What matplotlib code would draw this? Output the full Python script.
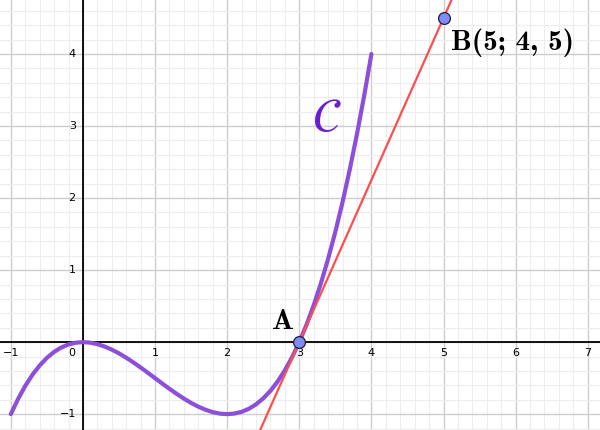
import matplotlib.pyplot as plt
from matplotlib.ticker import MultipleLocator

# curve C, points
curve_x = [-1.0, -0.9, -0.8, -0.7, -0.6, -0.5, -0.4, -0.3, -0.2, -0.1,
           0.0, 0.1, 0.2, 0.3, 0.4, 0.5, 0.6, 0.7, 0.8, 0.9,
           1.0, 1.1, 1.2, 1.3, 1.4, 1.5, 1.6, 1.7, 1.8, 1.9,
           2.0, 2.1, 2.2, 2.3, 2.4, 2.5, 2.6, 2.7, 2.8, 2.9,
           3.0, 3.1, 3.2, 3.3, 3.4, 3.5, 3.6, 3.7, 3.8, 3.9, 4.0]
curve_y = [-1.0, -0.79, -0.608, -0.453, -0.324, -0.219, -0.136, -0.074, -0.032, -0.008,
           0.0, -0.007, -0.028, -0.061, -0.104, -0.156, -0.216, -0.282, -0.352, -0.425,
           -0.5, -0.575, -0.648, -0.718, -0.784, -0.844, -0.896, -0.939, -0.972, -0.993,
           -1.0, -0.992, -0.968, -0.926, -0.864, -0.781, -0.676, -0.547, -0.392, -0.21,
           0.0, 0.24, 0.512, 0.817, 1.156, 1.531, 1.944, 2.396, 2.888, 3.422, 4.0]

# tangent goes through A and B
point_a = (3, 0)
point_b = (5, 4.5)

x_ticks = [-1, 1, 2, 3, 4, 5, 6, 7]
y_ticks = [-1, 1, 2, 3, 4]

fig = plt.figure(figsize=(6, 4.3), dpi=100)
ax = fig.add_axes([0, 0, 1, 1])
ax.set_xlim(-1.15, 7.17)
ax.set_ylim(-1.22, 4.75)

# grid
ax.xaxis.set_major_locator(MultipleLocator(1))
ax.yaxis.set_major_locator(MultipleLocator(1))
ax.xaxis.set_minor_locator(MultipleLocator(0.2))
ax.yaxis.set_minor_locator(MultipleLocator(0.2))
ax.grid(which='major', color='#cdcdcd', lw=1.0)
ax.grid(which='minor', color='#ededed', lw=0.8)
ax.tick_params(which='both', length=0, labelbottom=False, labelleft=False)
for s in ax.spines.values():
    s.set_visible(False)
ax.set_axisbelow(True)

ax.axhline(0, color='black', lw=1.3, zorder=2)
ax.axvline(0, color='black', lw=1.3, zorder=2)

for t in x_ticks:
    ax.text(t, -0.08, '−1' if t < 0 else str(t), ha='center', va='top', fontsize=8)
for t in y_ticks:
    ax.text(-0.1, t, '−1' if t < 0 else str(t), ha='right', va='center', fontsize=8)
ax.text(-0.1, -0.08, '0', ha='right', va='top', fontsize=8)

ax.plot(curve_x, curve_y, color='#8b4fd9', lw=3, solid_capstyle='round',
        solid_joinstyle='round', zorder=3)
ax.axline(point_a, point_b, color='#ff4d4d', lw=1.6, zorder=4)

for p in (point_a, point_b):
    ax.plot(*p, 'o', ms=8.5, mfc='#7d8ef0', mec='#1c1c4a', mew=0.9, zorder=5)

ax.text(2.93, 0.1, 'A', family='cmb10', fontsize=21, ha='right', va='bottom')
ax.text(5.1, 4.15, 'B(5; 4, 5)', family='cmb10', fontsize=21,
        ha='left', va='center')
ax.text(3.38, 3.11, r'$\mathcal{C}$', math_fontfamily='stix', fontsize=34,
        color='#6a1ed2', ha='center', va='center')

fig.savefig('out.png', dpi=100)
